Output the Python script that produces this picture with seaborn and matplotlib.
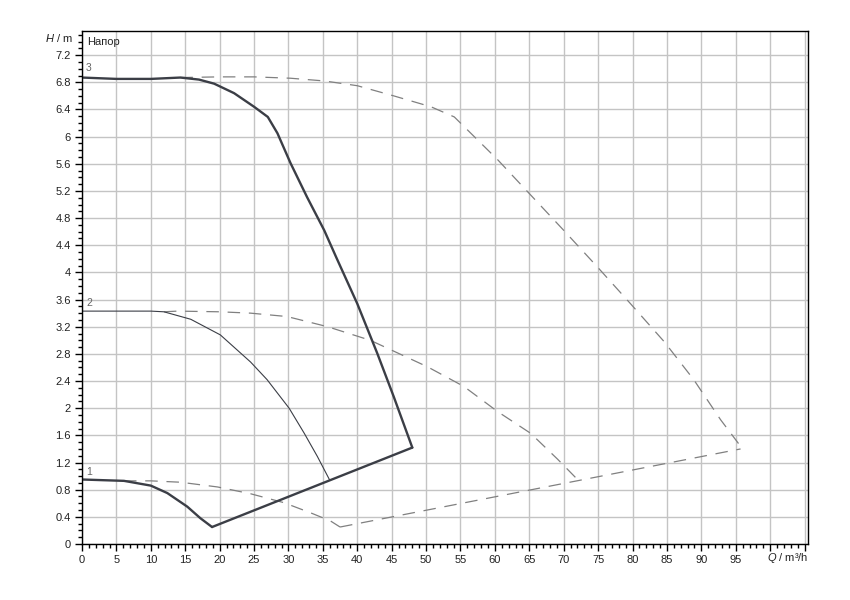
import numpy as np
import pandas as pd
import matplotlib
matplotlib.use("Agg")
import matplotlib.pyplot as plt
from matplotlib.ticker import MultipleLocator, FuncFormatter
import seaborn as sns

# ---- data ----
q3 = [0, 5, 10, 14.3, 17.0, 19.2, 22.1, 25.0, 27.0, 28.4, 30.3, 32.7, 35.2, 37.0, 40.0, 42.9, 45.3, 48.0]
h3 = [6.87, 6.85, 6.85, 6.87, 6.84, 6.78, 6.64, 6.44, 6.29, 6.05, 5.61, 5.11, 4.62, 4.21, 3.54, 2.81, 2.17, 1.42]

q2 = [0, 5, 10, 11.9, 15.8, 20.1, 24.5, 26.9, 30.1, 32.3, 34.2, 36.0]
h2 = [3.43, 3.43, 3.43, 3.42, 3.31, 3.08, 2.68, 2.42, 2.00, 1.63, 1.29, 0.94]

q1 = [0, 3, 6.1, 10.0, 12.4, 15.3, 17.2, 18.9]
h1 = [0.95, 0.94, 0.93, 0.86, 0.75, 0.55, 0.38, 0.25]

q_sys = [18.9, 48.0]
h_sys = [0.25, 1.42]

q3d = [14.3, 20, 25, 30.3, 35.2, 40.0, 45.3, 50.7, 54.1, 55.5, 60.4, 65.2, 70.0, 74.9, 79.7, 84.6, 88.9, 92.8, 95.4]
h3d = [6.87, 6.88, 6.88, 6.86, 6.82, 6.75, 6.60, 6.44, 6.29, 6.15, 5.66, 5.14, 4.62, 4.08, 3.54, 2.98, 2.42, 1.83, 1.48]

q2d = [11.9, 13.9, 20, 24.5, 29.8, 35.7, 41.9, 50.2, 55.5, 60.4, 65.2, 69.1, 72.1]
h2d = [3.42, 3.43, 3.42, 3.40, 3.35, 3.20, 3.00, 2.61, 2.32, 1.95, 1.63, 1.25, 0.94]

q1d = [6.1, 10, 14.3, 19.7, 24.5, 29.3, 33.2, 36.1, 37.5]
h1d = [0.93, 0.93, 0.91, 0.84, 0.74, 0.61, 0.46, 0.34, 0.25]

q_sysd = [37.5, 95.7]
h_sysd = [0.25, 1.40]

curve_labels = ["1", "2", "3"]
curve_label_h = [1.06, 3.55, 7.01]

x_tick_labels = [str(v) for v in range(0, 100, 5)]

# ---- style ----
sns.set_theme(style="white")
plt.rcParams['font.family'] = ['Liberation Sans', 'DejaVu Sans']
plt.rcParams['mathtext.fontset'] = 'custom'
plt.rcParams['mathtext.it'] = 'Liberation Sans:italic'
plt.rcParams['mathtext.rm'] = 'Liberation Sans'

dark = "#3b3e46"
gray = "#808080"

fig = plt.figure(figsize=(8.5, 6), dpi=100)
ax = fig.add_axes([82/850, 56/600, (808-82)/850, (544-30.7)/600])

def draw(q, h, **kw):
    df = pd.DataFrame({"Q": q, "H": h})
    sns.lineplot(data=df, x="Q", y="H", sort=False, estimator=None, ax=ax, **kw)

dash = (0, (10, 7))
draw(q3d, h3d, color=gray, lw=0.9, linestyle=dash)
draw(q2d, h2d, color=gray, lw=0.9, linestyle=dash)
draw(q1d, h1d, color=gray, lw=0.9, linestyle=dash)
draw(q_sysd, h_sysd, color=gray, lw=0.9, linestyle=dash)

draw(q3, h3, color=dark, lw=1.7)
draw(q2, h2, color=dark, lw=0.8)
draw(q1, h1, color=dark, lw=1.7)
draw(q_sys, h_sys, color=dark, lw=1.7)

ax.set_xlim(0, 105.5)
ax.set_ylim(0, 7.56)

ax.xaxis.set_major_locator(MultipleLocator(5))
ax.xaxis.set_minor_locator(MultipleLocator(1))
ax.yaxis.set_major_locator(MultipleLocator(0.4))
ax.yaxis.set_minor_locator(MultipleLocator(0.1))

ax.xaxis.set_major_formatter(FuncFormatter(lambda v, p: f"{v:g}" if v < 97.5 else ""))
ax.yaxis.set_major_formatter(FuncFormatter(lambda v, p: f"{round(v, 1):g}"))

ax.grid(True, which="major", color="#c4c4c4", lw=1.0)
ax.set_axisbelow(True)
for s in ax.spines.values():
    s.set_visible(True)
    s.set_color("black")
    s.set_linewidth(1.0)

ax.tick_params(axis="both", which="major", direction="out", length=5, width=1,
               color="black", labelsize=8, labelcolor="#222222", pad=3,
               bottom=True, left=True)
ax.tick_params(axis="both", which="minor", direction="out", length=3, width=1,
               color="black", bottom=True, left=True)

ax.set_xlabel("")
ax.set_ylabel("")

for lab, hh in zip(curve_labels, curve_label_h):
    ax.text(0.6, hh, lab, fontsize=7.5, color="#666666", ha="left", va="center")

ax.text(0.8, 7.39, "Напор", fontsize=8, color="#222222", ha="left", va="center")

fig.text(73/850, 1 - 38/600, r"$H$ / m", fontsize=8, color="#222222", ha="right", va="center")
fig.text(808/850, 1 - 558/600, r"$Q$ / m³/h", fontsize=8, color="#222222", ha="right", va="center")

fig.savefig("out.png", dpi=100, facecolor="white")
